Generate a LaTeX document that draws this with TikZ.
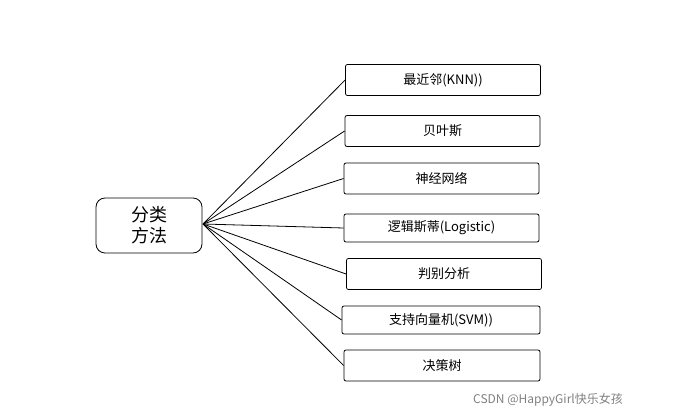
\documentclass[tikz,border=0pt]{standalone}
\usepackage{fontspec}
\setmainfont{Noto Sans CJK SC}
\begin{document}
\begin{tikzpicture}[x=1pt,y=-1pt,
  leaf/.style={draw,thick,rounded corners=2pt,minimum width=195pt,minimum height=31pt,font=\fontsize{13}{15}\selectfont,inner sep=0pt},
  root/.style={draw,thick,rounded corners=9pt,minimum width=106pt,minimum height=55pt,align=center,font=\fontsize{18}{21}\selectfont},
  link/.style={thick}]
\useasboundingbox (0,0) rectangle (680,419);
\node[root] (r) at (149,225.5) {分类\\方法};
\coordinate (o) at (203,224);
\node[leaf] (a) at (443,80) {最近邻(KNN))};
\node[leaf] (b) at (442.5,131) {贝叶斯};
\node[leaf] (c) at (441.5,178.5) {神经网络};
\node[leaf,minimum height=28pt] (d) at (441.5,228) {逻辑斯蒂(Logistic)};
\node[leaf] (e) at (444,274) {判别分析};
\node[leaf,minimum height=28pt,minimum width=198pt] (f) at (441,320) {支持向量机(SVM))};
\node[leaf,minimum width=196pt] (g) at (442,365.5) {决策树};
\foreach \n in {a,b,c,d,e,f,g} \draw[link] (o) -- (\n.west);
\node[text=gray,font=\fontsize{12}{14}\selectfont] (w) at (548,400) {CSDN @HappyGirl快乐女孩};
\end{tikzpicture}
\end{document}
